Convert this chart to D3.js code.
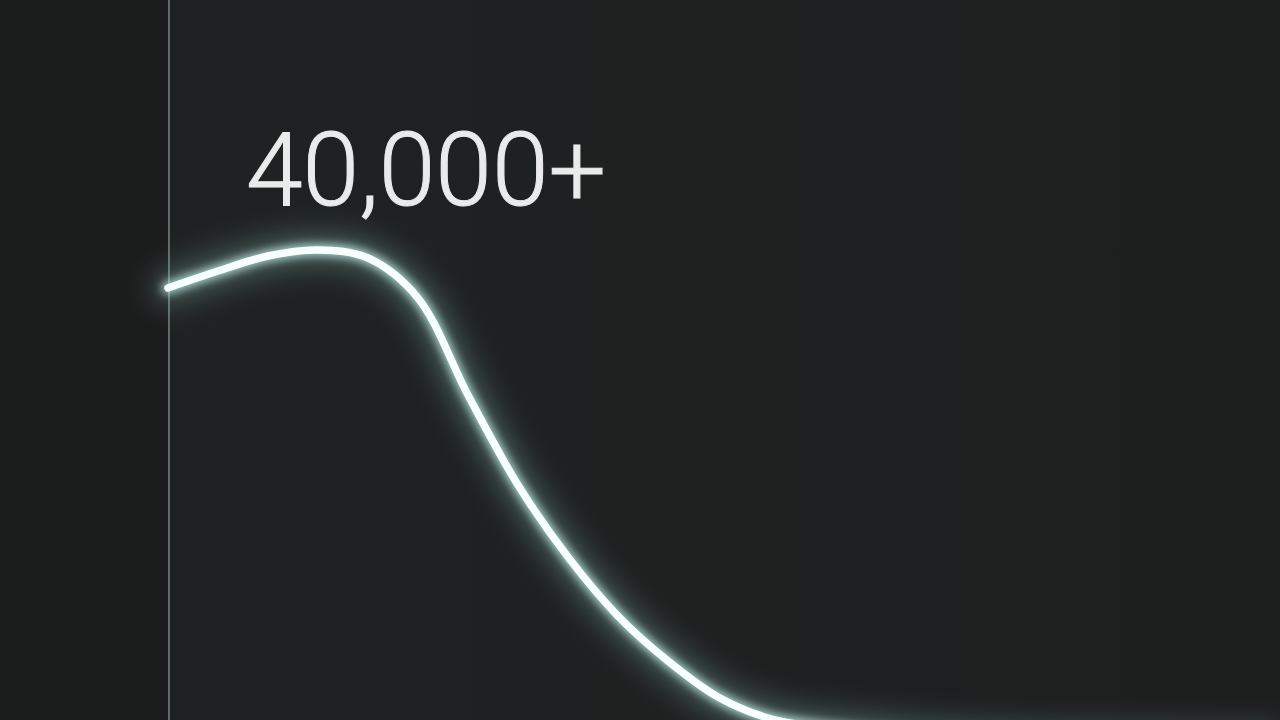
<!DOCTYPE html>
<html><head><meta charset="utf-8">
<script src="https://cdn.jsdelivr.net/npm/d3@7"></script>
<style>
html,body{margin:0;padding:0;background:#1c1d1d;overflow:hidden}
svg{display:block}
</style></head>
<body>
<svg id="chart" width="1280" height="720"></svg>
<script>
// Data (index steps along the x axis)
const steps = [0,1,2,3,4,5,6,7,8,9,10,11,12,13,14,15,16,17,18,19,20,21,22];
const values = [36930,38300,39515,40000,39350,36120,28280,21010,15190,10420,6790,3880,2180,1450,1050,650,400,250,150,100,60,30,0];
const labelText = ["40,000+"];
const labelValue = [40000];

const W = 1280, H = 720;
const svg = d3.select("#chart");
const x = d3.scaleLinear().domain([0, 22]).range([168, 1268]);
const y = d3.scaleLinear().domain([0, 40000]).range([745, 250]);

const defs = svg.append("defs");
const bg = defs.append("linearGradient").attr("id","bg").attr("x1","0").attr("x2","1").attr("y1","0").attr("y2","0");
bg.append("stop").attr("offset","0").attr("stop-color","#1f2222");
bg.append("stop").attr("offset","1").attr("stop-color","#1d1f1f");

const glow = defs.append("filter").attr("id","glow").attr("x","-30%").attr("y","-30%").attr("width","160%").attr("height","160%");
glow.append("feGaussianBlur").attr("stdDeviation", 14);

const glow2 = defs.append("filter").attr("id","glow2").attr("x","-20%").attr("y","-20%").attr("width","140%").attr("height","140%");
glow2.append("feGaussianBlur").attr("stdDeviation", 4);

// backgrounds
svg.append("rect").attr("x",0).attr("y",0).attr("width",W).attr("height",H).attr("fill","#1b1c1c");
svg.append("rect").attr("x",x(0)).attr("y",0).attr("width",W - x(0)).attr("height",H).attr("fill","url(#bg)");

// y axis line
svg.append("line").attr("x1",x(0)+1).attr("x2",x(0)+1).attr("y1",0).attr("y2",H)
  .attr("stroke","#5f6b68").attr("stroke-width",2);

const data = steps.map((s,i)=>({s, v: values[i]}));
const line = d3.line().x(d=>x(d.s)).y(d=>y(d.v)).curve(d3.curveCatmullRom.alpha(0.5));
const dPath = line(data);

const g = svg.append("g");
g.append("path").attr("d", dPath).attr("fill","none")
  .attr("stroke","#8fc9c2").attr("stroke-width",34).attr("stroke-opacity",0.32)
  .attr("stroke-linecap","round").attr("filter","url(#glow)");
g.append("path").attr("d", dPath).attr("fill","none")
  .attr("stroke","#c8f4ee").attr("stroke-width",13).attr("stroke-opacity",0.75)
  .attr("stroke-linecap","round").attr("filter","url(#glow2)");
g.append("path").attr("d", dPath).attr("fill","none")
  .attr("stroke","#f6fffe").attr("stroke-width",7.5)
  .attr("stroke-linecap","round");

// label
svg.append("text").attr("x", 246).attr("y", y(labelValue[0]) - 45)
  .attr("font-family","Roboto, 'Liberation Sans', sans-serif")
  .attr("font-weight",300).attr("font-size",102)
  .attr("fill","#e9eaea").attr("stroke","#e9eaea").attr("stroke-width",1)
  .text(labelText[0]);
</script>
</body></html>
